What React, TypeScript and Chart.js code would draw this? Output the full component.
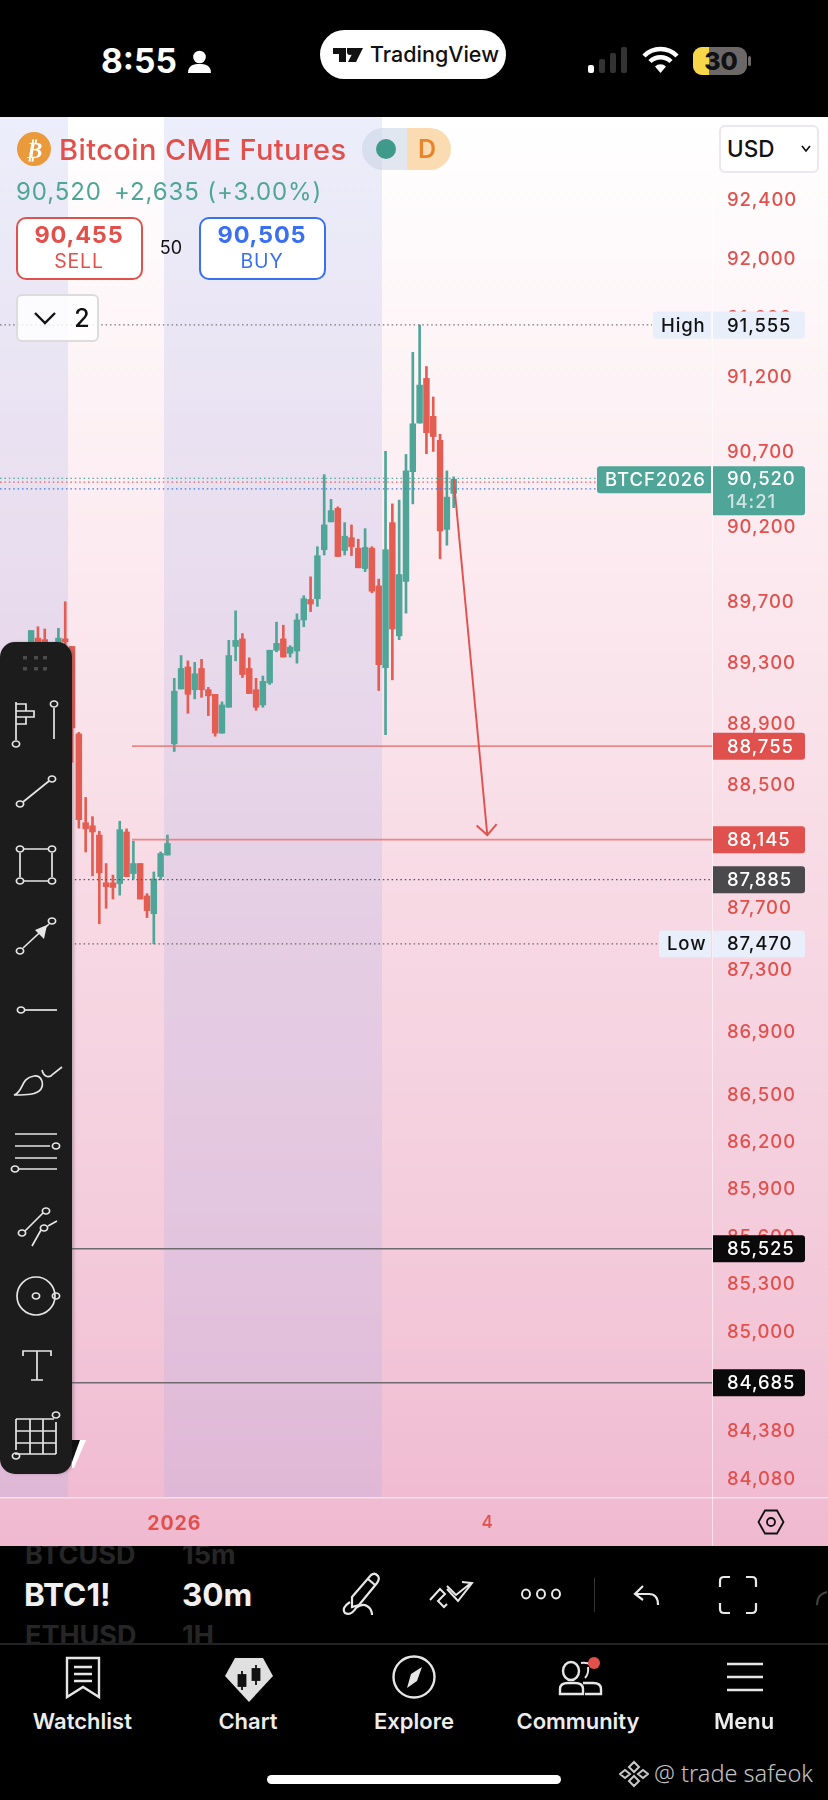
import React, { useEffect, useRef } from "react";
import { Chart } from "chart.js/auto";

// ---------- chart data (prices, BTC CME futures, 30m) ----------
const highs = [89515,89540,89525,89420,89530,89705,89410,88845,88420,88295,88200,87990,87915,88265,88215,88135,87990,87795,87935,88065,88175,89200,89350,89315,89305,89325,89140,89095,89045,89450,89645,89495,89335,89200,89215,89385,89570,89550,89415,89625,89745,89870,90070,90550,90385,90335,90230,90215,90120,90190,90070,89855,90705,90355,90380,90685,91370,91555,91275,91070,90820,90575,90535];
const opens = [89290,89465,89455,89385,89385,89460,89410,88835,88255,88235,88175,87865,87865,87860,88195,87925,87990,87780,87665,87905,88045,88770,89130,89275,89125,89265,89125,89095,88840,89010,89410,89460,89265,89125,89025,89170,89385,89460,89365,89380,89585,89720,89725,90050,90235,90325,90045,90130,90060,89925,90060,89810,89270,90230,89480,89840,90570,90895,91195,90940,90780,90185,90425];
const closes = [89515,89385,89375,89320,89465,89440,88875,88275,88215,88195,87930,87840,87835,88210,87905,87990,87760,87685,87890,88055,88120,89115,89265,89095,89230,89125,89085,88840,89025,89350,89450,89225,89100,89010,89180,89385,89430,89340,89405,89585,89725,89690,90010,90215,90310,90005,90140,90070,89930,90065,89775,89290,90050,89525,89885,90575,90890,91150,90830,90805,90175,90400,90520];
const lows = [89255,89320,89320,89270,89320,89355,88650,88220,88065,87910,87600,87700,87760,87785,87905,87890,87760,87640,87470,87885,88045,88720,89130,88970,89065,89075,88955,88820,88840,89010,89315,89205,89100,88990,89010,89160,89375,89340,89340,89300,89540,89640,89675,90015,90235,90005,90015,90010,89930,89905,89765,89120,88830,89190,89455,89630,90355,90895,90690,90705,89990,90080,90330];

const priceTicks = [92400,92000,91600,91200,90700,90200,89700,89300,88900,88500,87700,87300,86900,86500,86200,85900,85600,85300,85000,84380,84080];
const timeTickValues = [21, 67];
const timeTickLabels = ["2026", "4"];
const sessionBands = [[-4.57, 5.42], [19.5, 51.48]];

const PRICE_MIN = 83974;
const PRICE_MAX = 92970;
const INDEX_MIN = -4.57;
const INDEX_MAX = 99.9;

const targetLevels = [88755, 88145];
const supportLevels = [85525, 84685];
const arrowXs = [62, 66.93];
const arrowYs = [90520, 88175];
const arrowHeadXs = [65.36, 66.93, 68.3];
const arrowHeadYs = [88237, 88175, 88246];

const UP = "#4fa597";
const DOWN = "#e35d52";
const RED_TXT = "#e2504c";
const BLUE = "#3a6ff0";

const dottedLines = [
  { price: 91555, end: 91.1, color: "#77757a" },
  { price: 90525, end: 83, color: "#58a99c" },
  { price: 90500, end: 83, color: "#e25c58" },
  { price: 90455, end: 83, color: "#3a78e8" },
  { price: 87885, end: INDEX_MAX, color: "#555355" },
  { price: 87470, end: 92, color: "#6b696b" },
];

const priceTags = [
  { price: 91555, bg: "#e8eefa", fg: "#111" },
  { price: 88755, bg: "#e0504c", fg: "#fff" },
  { price: 88145, bg: "#e0504c", fg: "#fff" },
  { price: 87885, bg: "#4a4a4c", fg: "#fff" },
  { price: 87470, bg: "#e8eefa", fg: "#111" },
  { price: 85525, bg: "#0a0a0a", fg: "#fff" },
  { price: 84685, bg: "#0a0a0a", fg: "#fff" },
];
const LAST_PRICE = 90520;
const COUNTDOWN = "14:21";
const LAST_SYMBOL = "BTCF2026";

const fmt = (v: number) => v.toLocaleString("en-US");

function box(ctx: any, x: number, y: number, w: number, h: number, r: number | number[], fill: string) {
  ctx.beginPath();
  ctx.roundRect(x, y, w, h, r);
  ctx.fillStyle = fill;
  ctx.fill();
}

const backdrop = {
  id: "backdrop",
  beforeDraw(chart: any) {
    const { ctx, width, height, chartArea, scales } = chart;
    ctx.save();
    const g = ctx.createLinearGradient(0, 0, 0, height);
    g.addColorStop(0, "#ffffff");
    g.addColorStop(0.2, "#fdf2f5");
    g.addColorStop(0.34, "#fbe8ee");
    g.addColorStop(0.55, "#f7d9e4");
    g.addColorStop(0.76, "#f4cddc");
    g.addColorStop(1, "#f0b9d0");
    ctx.fillStyle = g;
    ctx.fillRect(0, 0, width, height);
    ctx.fillStyle = "rgba(160,170,235,0.2)";
    for (const [a, b] of sessionBands) {
      const x0 = scales.x.getPixelForValue(a);
      const x1 = scales.x.getPixelForValue(b);
      ctx.fillRect(x0, chartArea.top, x1 - x0, chartArea.bottom - chartArea.top);
    }
    ctx.fillStyle = "rgba(255,255,255,0.55)";
    ctx.fillRect(0, chartArea.bottom, width, 1.5);
    ctx.fillRect(chartArea.right, 0, 1, height);
    ctx.restore();
    (ctx as any).letterSpacing = "0.9px";
  },
  afterDraw(chart: any) {
    const { ctx, scales } = chart;
    const y = scales.y;
    const X = 713, W = 92, H = 27;
    ctx.save();
    ctx.font = "500 18.5px Inter";
    ctx.textBaseline = "middle";
    ctx.textAlign = "left";
    for (const t of priceTags) {
      const cy = y.getPixelForValue(t.price);
      box(ctx, X, cy - H / 2, W, H, [0, 3, 3, 0], t.bg);
      ctx.fillStyle = t.fg;
      ctx.fillText(fmt(t.price), 727, cy + 1);
    }
    // High / Low captions
    const hy = y.getPixelForValue(91555);
    box(ctx, 653, hy - H / 2, 58, H, [3, 0, 0, 3], "#e8eefa");
    ctx.fillStyle = "#111";
    ctx.fillText("High", 661, hy + 1);
    const ly = y.getPixelForValue(87470);
    box(ctx, 659, ly - H / 2, 52, H, [3, 0, 0, 3], "#e8eefa");
    ctx.fillStyle = "#111";
    ctx.fillText("Low", 667, ly + 1);
    // last price
    const ny = y.getPixelForValue(LAST_PRICE);
    box(ctx, 597, ny - 13, 114, 27, [3, 0, 0, 3], UP);
    box(ctx, X, ny - 13, W, 49, [0, 3, 3, 0], UP);
    ctx.fillStyle = "#fff";
    ctx.fillText(LAST_SYMBOL, 605, ny + 1);
    ctx.fillText(fmt(LAST_PRICE), 727, ny);
    ctx.fillStyle = "#cfe3e3";
    ctx.fillText(COUNTDOWN, 727, ny + 23);
    ctx.restore();
  },
};

function Txt({ x, cx, cy, size, weight = 400, color = "#000", ls = 0, children, extra }: any) {
  const style: any = {
    position: "absolute",
    top: cy,
    left: cx !== undefined ? cx : x,
    transform: cx !== undefined ? "translate(-50%,-50%)" : "translateY(-50%)",
    fontSize: size,
    fontWeight: weight,
    color,
    letterSpacing: ls,
    whiteSpace: "nowrap",
    lineHeight: 1,
    ...extra,
  };
  return <span style={style}>{children}</span>;
}

function Svg({ x, y, w, h, children, z }: any) {
  return (
    <svg width={w} height={h} viewBox={`0 0 ${w} ${h}`} style={{ position: "absolute", left: x, top: y, zIndex: z }}>
      {children}
    </svg>
  );
}

function Toolbar() {
  const s = { fill: "none", stroke: "#e6e6e6", strokeWidth: 1.7 };
  const C = (cx: number, cy: number, rx = 3.6, ry = 3) => <ellipse cx={cx} cy={cy} rx={rx} ry={ry} {...s} />;
  const o = 642;
  return (
    <>
      <div style={{ position: "absolute", left: 0, top: 642, width: 72, height: 832, background: "#1c1c1c", borderRadius: 15, boxShadow: "2px 0 3px rgba(90,80,90,.35)" }} />
      <Svg x={0} y={o} w={72} h={832}>
        {[25, 36, 45].map((x) => [16, 27].map((y) => <rect key={x + "-" + y} x={x - 2} y={y - 2} width={4} height={3.5} fill="#4b4b4b" />))}
        {/* flag + pin */}
        <path d="M16 60 V 98 M16 62 H26 V69 H34 V75 H26 V82 H16 M16 69 H26 M16 75 H26" {...s} />
        {C(16, 102)}{C(54, 62)}
        <path d="M54 66 V 97" {...s} />
        {/* trend */}
        {C(20, 162)}{C(52, 137)}<path d="M23 160 L49 139" {...s} />
        {/* rect */}
        {C(20, 207)}{C(52, 207)}{C(20, 239)}{C(52, 239)}
        <path d="M24 207 H48 M24 239 H48 M20 211 V235 M52 211 V235" {...s} />
        {/* arrow */}
        {C(20, 309)}{C(52, 279)}<path d="M23 306 L49 282" {...s} />
        <path d="M35 288 L47 283 L44 297 Z" fill="#e6e6e6" />
        {/* line */}
        {C(21, 368)}<path d="M25 368 H57" {...s} />
        {/* brush */}
        <path d="M14 453 C 24 450 20 436 34 434 C 42 433 44 442 41 447 C 37 453 26 453 14 453 Z" {...s} />
        <path d="M42 428 C 44 436 50 436 53 432 L 62 425" {...s} />
        {/* lines */}
        <path d="M15 492 H57 M15 504 H50 M15 516 H57 M18 527 H57" {...s} />
        {C(56, 504)}{C(15, 527)}
        {/* parallel */}
        {C(22, 591)}{C(46, 569)}<path d="M25 589 L43 571" {...s} />
        {C(44, 586)}<path d="M32 604 L41 588 M48 584 L57 579" {...s} />
        {/* circle */}
        <circle cx={36} cy={654} r={19} {...s} />
        {C(36, 654)}{C(56, 654)}
        {/* T */}
        <path d="M23 714 V709 H51 V714 M37 709 V738 M31 738 H43" {...s} />
        {/* grid */}
        <path d="M16 777 H54 M16 789 H56 M16 801 H56 M15 812 H56 M16 777 V808 M30 777 V812 M43 777 V812 M56 780 V812" {...s} />
        {C(56, 773)}{C(16, 814)}
      </Svg>
      {/* corner of the logo behind the toolbar */}
      <Svg x={71} y={1438} w={16} h={32}>
        <polygon points="1,2 15,2 3,30 1,30" fill="#fff" />
        <polygon points="1,2 9,2 1,24" fill="#111" />
      </Svg>
    </>
  );
}

function Header() {
  return (
    <>
      <Txt x={101} cy={62} size={33.5} weight={700} color="#fff">8:55</Txt>
      <Svg x={187} y={50} w={26} h={25}>
        <circle cx={12.5} cy={7} r={6.3} fill="#fff" />
        <path d="M1 23 C1 15 7 14 12.5 14 C18 14 24 15 24 23 Z" fill="#fff" />
      </Svg>
      <div style={{ position: "absolute", left: 320, top: 30, width: 186, height: 49, borderRadius: 25, background: "#fff" }} />
      <Svg x={333} y={47} w={32} h={17}>
        <path d="M0 1 H13 V15 H6 V7 H0 Z M14 1 H30 L23 15 H15 L20 5 A 3 3 0 0 1 14 5 Z" fill="#111" />
      </Svg>
      <Txt x={370} cy={55} size={21.5} weight={500} color="#111">TradingView</Txt>
      <Svg x={586} y={46} w={44} h={28}>
        <rect x={2} y={19} width={6} height={8} rx={2} fill="#fff" />
        <rect x={13} y={13} width={6} height={14} rx={2} fill="#333" />
        <rect x={24} y={7} width={6} height={20} rx={2} fill="#333" />
        <rect x={35} y={1} width={6} height={26} rx={2} fill="#333" />
      </Svg>
      <Svg x={642} y={46} w={38} h={28}>
        <path d="M2 10 A 23 23 0 0 1 35 10" fill="none" stroke="#fff" strokeWidth={4.5} />
        <path d="M8 15.5 A 15 15 0 0 1 29 15.5" fill="none" stroke="#fff" strokeWidth={4.5} />
        <path d="M13 20.5 A 8 8 0 0 1 24 20.5 L18.5 27 Z" fill="#fff" />
      </Svg>
      <div style={{ position: "absolute", left: 693, top: 47, width: 54, height: 28, borderRadius: 9, background: "#6d6868", overflow: "hidden" }}>
        <div style={{ width: 16, height: 28, background: "#f6d74a" }} />
      </div>
      <div style={{ position: "absolute", left: 748, top: 56, width: 3, height: 10, borderRadius: 2, background: "#6d6868" }} />
      <Txt cx={721} cy={61} size={25} weight={800} color="#111">30</Txt>

      <div style={{ position: "absolute", left: 17, top: 132, width: 34, height: 34, borderRadius: 17, background: "#ea9a3a" }} />
      <Txt cx={34} cy={149.5} size={23} weight={700} color="#fff" extra={{ fontStyle: "italic", fontFamily: "DejaVu Sans" }}>₿</Txt>
      <Txt x={59} cy={149} size={29} weight={500} color={RED_TXT} ls={0.4}>Bitcoin CME Futures</Txt>
      <div style={{ position: "absolute", left: 362, top: 128, width: 45, height: 42, borderRadius: "21px 0 0 21px", background: "rgba(200,212,228,.55)" }} />
      <div style={{ position: "absolute", left: 407, top: 128, width: 44, height: 42, borderRadius: "0 21px 21px 0", background: "#fbdcb2" }} />
      <div style={{ position: "absolute", left: 376, top: 139, width: 20, height: 20, borderRadius: 10, background: "#3f9a8c" }} />
      <Txt cx={427} cy={149} size={25} weight={600} color="#e8832a">D</Txt>

      <Txt x={16} cy={192} size={24} weight={400} color="#4fa698" ls={0.9}>90,520</Txt>
      <Txt x={114} cy={192} size={24} weight={400} color="#4fa698" ls={0.9}>+2,635 (+3.00%)</Txt>

      <div style={{ position: "absolute", boxSizing: "border-box", left: 16, top: 217, width: 127, height: 63, border: `2px solid ${RED_TXT}`, borderRadius: 10, background: "#fff" }} />
      <Txt cx={79} cy={235} size={23.5} weight={700} color={RED_TXT} ls={0.8}>90,455</Txt>
      <Txt cx={79} cy={262} size={19.5} weight={400} color={RED_TXT} ls={0.8}>SELL</Txt>
      <Txt cx={171} cy={248} size={18} weight={400} color="#111">50</Txt>
      <div style={{ position: "absolute", boxSizing: "border-box", left: 199, top: 217, width: 127, height: 63, border: `2px solid ${BLUE}`, borderRadius: 10, background: "#fff" }} />
      <Txt cx={262} cy={235} size={23.5} weight={700} color={BLUE} ls={0.8}>90,505</Txt>
      <Txt cx={262} cy={262} size={19.5} weight={400} color={BLUE} ls={0.8}>BUY</Txt>

      <div style={{ position: "absolute", boxSizing: "border-box", left: 16, top: 294, width: 83, height: 48, border: "2px solid #dcdcdc", borderRadius: 6, background: "rgba(255,255,255,.82)" }} />
      <Svg x={33} y={309} w={24} h={18}>
        <path d="M2 4 L12 14 L22 4" fill="none" stroke="#111" strokeWidth={2.4} />
      </Svg>
      <Txt cx={82} cy={318} size={25} weight={500} color="#111">2</Txt>

      <div style={{ position: "absolute", boxSizing: "border-box", left: 719, top: 125, width: 100, height: 48, border: "2px solid #ebe6f2", borderRadius: 6, background: "#fff" }} />
      <Txt x={727} cy={149} size={22.5} weight={500} color="#111">USD</Txt>
      <Svg x={800} y={144} w={12} h={10}>
        <path d="M2 2 L6 7 L10 2" fill="none" stroke="#111" strokeWidth={1.7} />
      </Svg>
    </>
  );
}

function Footer() {
  const s = { fill: "none", stroke: "#e8e8e8", strokeWidth: 2.2 };
  const n = { fill: "none", stroke: "#e6e6e6", strokeWidth: 2.4 };
  const ghost = "#262626";
  return (
    <>
      <Svg x={757} y={1509} w={28} h={26}>
        <path d="M8 1.5 H20 L26.5 13 L20 24.5 H8 L1.5 13 Z" fill="none" stroke="#111" strokeWidth={1.8} />
        <circle cx={14} cy={13} r={4} fill="none" stroke="#111" strokeWidth={1.8} />
      </Svg>

      <div style={{ position: "absolute", left: 0, top: 1546, width: 828, height: 20, overflow: "hidden" }}>
        <Txt x={25} cy={9} size={27} weight={700} color={ghost} extra={{ width: 124, overflow: "hidden", lineHeight: "30px" }}>BTCUSD</Txt>
        <Txt x={182} cy={9} size={27} weight={700} color={ghost} extra={{ lineHeight: "30px" }}>15m</Txt>
      </div>
      <Txt x={24} cy={1595} size={31.5} weight={700} color="#f0f0f0">BTC1!</Txt>
      <Txt x={182} cy={1595} size={31.5} weight={700} color="#f0f0f0">30m</Txt>
      <div style={{ position: "absolute", left: 0, top: 1622, width: 828, height: 22, overflow: "hidden" }}>
        <Txt x={25} cy={14} size={27} weight={700} color={ghost} extra={{ width: 124, overflow: "hidden", lineHeight: "30px" }}>ETHUSD</Txt>
        <Txt x={182} cy={14} size={27} weight={700} color={ghost} extra={{ lineHeight: "30px" }}>1H</Txt>
      </div>

      {/* pen */}
      <Svg x={342} y={1572} w={40} h={44}>
        <path d="M10 25 L29 3 Q33 0 36 4 Q38 7 35 11 L17 33 L10 35 Z M26 7 L33 13" {...s} />
        <path d="M8 30 Q-1 36 3 41 Q9 44 14 36 Q20 31 25 34 Q30 37 30 43" {...s} />
      </Svg>
      {/* double chevron */}
      <Svg x={428} y={1581} w={46} h={28}>
        <path d="M2 19 L12 8 L17 13 L10 20 L16 26 L19 23 M19 5 L28 14 L43 2 M34 1 L44 2 L30 20 L19 8" {...s} strokeWidth={2} />
      </Svg>
      <Svg x={520} y={1584} w={42} h={20}>
        {[6, 21, 36].map((x) => <ellipse key={x} cx={x} cy={10} rx={4} ry={4.5} fill="none" stroke="#e8e8e8" strokeWidth={2} />)}
      </Svg>
      <div style={{ position: "absolute", left: 594, top: 1578, width: 1, height: 34, background: "#333" }} />
      <Svg x={633} y={1584} w={28} h={22}>
        <path d="M10 2 L2 10 L10 16 M2 10 H16 Q25 10 25 21" {...s} />
      </Svg>
      <Svg x={718} y={1575} w={40} h={40}>
        <path d="M2 12 V6 Q2 2 6 2 H12 M28 2 H34 Q38 2 38 6 V12 M38 28 V34 Q38 38 34 38 H28 M12 38 H6 Q2 38 2 34 V28" {...s} />
      </Svg>
      <Svg x={815} y={1590} w={13} h={16}>
        <path d="M2 15 Q2 4 12 2" fill="none" stroke="#444" strokeWidth={2} />
      </Svg>
      <div style={{ position: "absolute", left: 0, top: 1643, width: 828, height: 1.5, background: "#222" }} />

      {/* nav */}
      <Svg x={64} y={1656} w={38} h={44}>
        <path d="M3 2 H35 V41 L19 31 L3 41 Z M10 11 H28 M10 18 H28 M10 25 H28" {...n} />
      </Svg>
      <Svg x={224} y={1657} w={50} h={46}>
        <path d="M11 1 H39 L49 19 L25 45 L1 19 Z" fill="#e0e0e0" />
        <path d="M18 14 V33 M32 8 V28" stroke="#111" strokeWidth={1.8} />
        <rect x={14.5} y={18} width={7} height={11} fill="#111" stroke="#111" strokeWidth={1.8} />
        <rect x={28.5} y={12} width={7} height={11} fill="#111" stroke="#111" strokeWidth={1.8} />
      </Svg>
      <Svg x={391} y={1654} w={46} h={46}>
        <circle cx={23} cy={23} r={20.5} {...n} />
        <path d="M31 13 L26 27 L16 34 L20 20 Z" fill="#e6e6e6" />
      </Svg>
      <Svg x={557} y={1656} w={48} h={42}>
        <ellipse cx={14} cy={15} rx={8} ry={9} {...n} />
        <path d="M24 7 Q30 6 34 9 M31 11 Q32 18 28 22" {...n} strokeWidth={2} />
        <path d="M3 38 V33 Q3 27 11 27 H18 Q26 27 26 33 V38 Z M26 27 H36 Q44 27 44 33 V38 H28" {...n} />
      </Svg>
      <div style={{ position: "absolute", left: 588, top: 1657, width: 12, height: 12, borderRadius: 6, background: "#e2504c" }} />
      <Svg x={726} y={1660} w={38} h={34}>
        <path d="M1 4 H37 M1 17 H37 M1 30 H37" fill="none" stroke="#e6e6e6" strokeWidth={2.6} />
      </Svg>
      <Txt cx={82.4} cy={1721} size={22} weight={600} color="#ececec">Watchlist</Txt>
      <Txt cx={248} cy={1721} size={22} weight={600} color="#ececec">Chart</Txt>
      <Txt cx={414} cy={1721} size={22} weight={600} color="#ececec">Explore</Txt>
      <Txt cx={578} cy={1721} size={22} weight={600} color="#ececec">Community</Txt>
      <Txt cx={744} cy={1721} size={22} weight={600} color="#ececec">Menu</Txt>

      <div style={{ position: "absolute", left: 267, top: 1775, width: 294, height: 9, borderRadius: 5, background: "#fff" }} />
      <Svg x={619} y={1760} w={30} h={28}>
        <path d="M15 2 L20 7 L15 12 L10 7 Z M6 10 L11 14 L6 18 L1 14 Z M24 10 L29 14 L24 18 L19 14 Z M15 16 L20 21 L15 26 L10 21 Z" fill="none" stroke="#c8c8c8" strokeWidth={2} />
      </Svg>
      <Txt x={654} cy={1774} size={23.5} weight={300} color="#c4c4c4" extra={{ fontFamily: "Noto Sans" }}>@ trade safeok</Txt>
    </>
  );
}

export default function App() {
  const ref = useRef<HTMLCanvasElement>(null);
  useEffect(() => {
    document.body.style.margin = "0";
    document.body.style.background = "#000";
    document.documentElement.style.overflow = "hidden";
    const idx = highs.map((_, i) => i);
    const colors = idx.map((i) => (closes[i] >= opens[i] ? UP : DOWN));
    const lineSet = (xs: number[], ys: number[], color: string, width: number, dash: number[] = [], order = 0) => ({
      type: "line",
      data: xs.map((x, i) => ({ x, y: ys[i] })),
      borderColor: color,
      borderWidth: width,
      borderDash: dash,
      pointRadius: 0,
      tension: 0,
      order,
    });
    const noPad = (s: any) => {
      s.paddingTop = 0;
      s.paddingBottom = 0;
      s.paddingLeft = 0;
      s.paddingRight = 0;
    };
    const chart = new Chart(ref.current as any, {
      type: "bar",
      data: {
        datasets: [
          ...supportLevels.map((p) => lineSet([INDEX_MIN, INDEX_MAX], [p, p], "#6e6a6e", 1.5, [], 3)),
          ...targetLevels.map((p) => lineSet([14.8, INDEX_MAX], [p, p], "rgba(232,112,108,0.8)", 1.7, [], 0)),
          ...dottedLines.map((d) => lineSet([INDEX_MIN, d.end], [d.price, d.price], d.color, 1.3, [1.5, 2.9], 0)),
          lineSet(arrowXs, arrowYs, "#e2504c", 1.9, [], -1),
          lineSet(arrowHeadXs, arrowHeadYs, "#e2504c", 1.9, [], -1),
          {
            data: idx.map((i) => ({ x: i, y: [opens[i], closes[i]] })),
            backgroundColor: colors,
            barThickness: 5.8,
            grouped: false,
            order: 1,
          },
          {
            data: idx.map((i) => ({ x: i, y: [lows[i], highs[i]] })),
            backgroundColor: colors,
            barThickness: 2,
            grouped: false,
            order: 2,
          },
        ] as any,
      },
      options: {
        animation: false,
        responsive: false,
        devicePixelRatio: 1,
        layout: { padding: 0 },
        events: [],
        plugins: { legend: { display: false }, tooltip: { enabled: false } },
        font: { family: "Inter" },
        scales: {
          x: {
            type: "linear",
            offset: false,
            min: INDEX_MIN,
            max: INDEX_MAX,
            grid: { display: false, drawTicks: false },
            border: { display: false },
            afterFit: (s: any) => { s.height = 49; noPad(s); },
            afterBuildTicks: (s: any) => { s.ticks = timeTickValues.map((value) => ({ value })); },
            ticks: {
              autoSkip: false,
              maxRotation: 0,
              padding: 15,
              color: RED_TXT,
              font: (c: any) => ({ family: "Inter", size: c.index === 0 ? 19.5 : 17.5, weight: c.index === 0 ? "700" : "500" }),
              callback: (v: any) => timeTickLabels[timeTickValues.indexOf(Number(v))] ?? "",
            },
          },
          y: {
            type: "logarithmic",
            position: "right",
            beginAtZero: false,
            min: PRICE_MIN,
            max: PRICE_MAX,
            grid: { display: false, drawTicks: false },
            border: { display: false },
            afterFit: (s: any) => { s.width = 116; noPad(s); },
            afterBuildTicks: (s: any) => { s.ticks = priceTicks.map((value) => ({ value })); },
            ticks: {
              autoSkip: false,
              padding: 15,
              color: RED_TXT,
              font: { family: "Inter", size: 18.5, weight: "500" },
              callback: (v: any) => fmt(Number(v)),
            },
          },
        },
      } as any,
      plugins: [backdrop],
    } as any);
    return () => chart.destroy();
  }, []);

  return (
    <div style={{ position: "absolute", left: 0, top: 0, width: 828, height: 1800, background: "#000", overflow: "hidden", fontFamily: "Inter, sans-serif" }}>
      <canvas ref={ref} width={828} height={1429} style={{ position: "absolute", left: 0, top: 117, width: 828, height: 1429 }} />
      <Header />
      <Toolbar />
      <Footer />
    </div>
  );
}
